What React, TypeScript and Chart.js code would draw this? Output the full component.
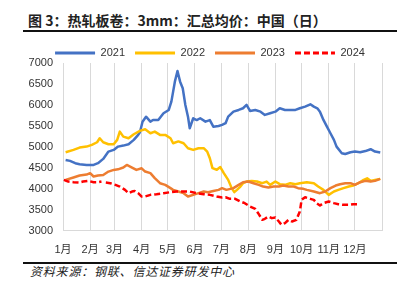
import React, { useEffect, useRef } from "react";
import { Chart, registerables } from "chart.js";

Chart.register(...registerables);

const titleText = "图 3：热轧板卷：3mm：汇总均价：中国（日）";
const sourceText = "资料来源：钢联、信达证券研发中心";

const seriesLabels = ["2021", "2022", "2023", "2024"];
const monthStarts = [0, 31, 59, 90, 120, 151, 181, 212, 243, 273, 304, 334, 365];
const monthLabels = ["1月", "2月", "3月", "4月", "5月", "6月", "7月", "8月", "9月", "10月", "11月", "12月"];
const yMin = 3000;
const yMax = 7000;
const yStep = 500;

const days2021 = [3, 8, 14, 19, 27, 35, 40, 46, 52, 58, 63, 69, 75, 81, 86, 88, 91, 95, 100, 103, 109, 115, 121, 124, 128, 131, 134, 137, 140, 143, 145, 149, 153, 157, 163, 168, 172, 178, 182, 186, 189, 195, 201, 206, 210, 214, 220, 226, 231, 237, 243, 248, 254, 260, 266, 271, 277, 283, 287, 291, 294, 298, 302, 306, 310, 313, 319, 323, 329, 334, 340, 346, 352, 357, 363];
const values2021 = [4690, 4667, 4612, 4588, 4571, 4571, 4612, 4714, 4888, 4928, 5007, 5031, 5064, 5167, 5286, 5350, 5600, 5720, 5602, 5640, 5640, 5802, 5881, 6079, 6555, 6810, 6555, 6398, 6000, 5721, 5445, 5683, 5640, 5683, 5602, 5640, 5483, 5500, 5524, 5564, 5721, 5840, 5881, 5921, 6000, 5857, 5881, 5840, 5762, 5802, 5840, 5921, 5881, 5881, 5881, 5921, 5960, 6016, 5960, 5921, 5840, 5643, 5483, 5326, 5167, 5007, 4850, 4830, 4873, 4888, 4873, 4900, 4945, 4888, 4865];

const days2022 = [3, 12, 19, 27, 33, 39, 42, 46, 52, 58, 62, 65, 69, 75, 81, 88, 94, 100, 105, 111, 117, 123, 126, 132, 138, 143, 149, 155, 161, 165, 168, 171, 176, 180, 184, 189, 193, 196, 199, 203, 206, 210, 216, 222, 228, 233, 237, 243, 248, 254, 260, 266, 271, 279, 287, 292, 298, 304, 310, 315, 321, 327, 332, 338, 344, 348, 352, 357, 363];
const values2022 = [4873, 4928, 4984, 5007, 5048, 5111, 5207, 5111, 5064, 5064, 5167, 5364, 5245, 5207, 5302, 5381, 5420, 5326, 5364, 5286, 5286, 5207, 5088, 5131, 5088, 4969, 4928, 4969, 4969, 4888, 4730, 4493, 4455, 4520, 4374, 4214, 4017, 3921, 3976, 4055, 4135, 4174, 4190, 4174, 4135, 4174, 4095, 4174, 4111, 4095, 4135, 4111, 4135, 4158, 4135, 4055, 3976, 3857, 3936, 3976, 4017, 4055, 4079, 4135, 4214, 4250, 4190, 4214, 4238];

const days2023 = [3, 12, 19, 27, 31, 35, 40, 46, 52, 58, 63, 69, 73, 79, 84, 90, 94, 100, 105, 111, 117, 123, 126, 132, 138, 143, 149, 155, 161, 166, 172, 178, 182, 187, 195, 201, 206, 212, 218, 224, 229, 235, 241, 247, 252, 258, 264, 269, 275, 279, 287, 294, 300, 306, 312, 317, 323, 329, 334, 340, 346, 352, 357, 363];
const values2023 = [4214, 4270, 4317, 4340, 4374, 4294, 4317, 4330, 4412, 4452, 4465, 4508, 4571, 4508, 4452, 4490, 4412, 4374, 4255, 4135, 4095, 4017, 3976, 3936, 3897, 3817, 3857, 3897, 3936, 3921, 3950, 3976, 4017, 3976, 4017, 4095, 4158, 4174, 4135, 4095, 4055, 4032, 4055, 4055, 4079, 4055, 4055, 4017, 4000, 3976, 3936, 3897, 3936, 4017, 4079, 4111, 4135, 4135, 4095, 4158, 4190, 4174, 4190, 4238];

const days2024 = [1, 6, 12, 18, 23, 29, 35, 40, 44, 46, 49, 54, 60, 65, 71, 75, 79, 82, 86, 90, 94, 100, 107, 115, 123, 130, 138, 145, 153, 161, 168, 176, 182, 186, 191, 197, 203, 208, 214, 220, 224, 228, 231, 235, 239, 243, 247, 250, 254, 258, 262, 267, 271, 273, 277, 283, 287, 290, 294, 298, 304, 310, 315, 321, 327, 332, 337];
const values2024 = [4214, 4174, 4158, 4150, 4174, 4190, 4158, 4158, 4174, null, 4150, 4135, 4095, 4055, 3976, 3897, 3936, 3950, 3897, 3817, 3817, 3857, 3873, 3897, 3921, 3936, 3936, 3936, 3897, 3873, 3857, 3817, 3793, 3800, 3762, 3762, 3698, 3658, 3579, 3524, 3397, 3262, 3286, 3341, 3302, 3318, 3222, 3143, 3183, 3262, 3222, 3262, 3460, 3738, 3800, 3762, 3738, 3659, 3603, 3659, 3698, 3659, 3635, 3619, 3619, 3635, 3635];

const seriesColors = ["#4472C4", "#FFC000", "#ED7D31", "#FF0000"];
const seriesDash: number[][] = [[], [], [], [6, 3]];

const toPoints = (days: number[], values: (number | null)[]) =>
  days.map((d, i) => ({ x: d, y: values[i] }));

const FONT = "'Liberation Sans', Arial, 'Noto Sans CJK SC', sans-serif";

export default function App() {
  const ref = useRef<HTMLCanvasElement>(null);

  useEffect(() => {
    const allData = [
      toPoints(days2021, values2021),
      toPoints(days2022, values2022),
      toPoints(days2023, values2023),
      toPoints(days2024, values2024),
    ];
    const chart = new Chart(ref.current as HTMLCanvasElement, {
      type: "line",
      data: {
        datasets: allData.map((d, i) => ({
          label: seriesLabels[i],
          data: d as any,
          borderColor: seriesColors[i],
          backgroundColor: seriesColors[i],
          borderWidth: 2.5,
          borderDash: seriesDash[i],
          pointRadius: 0,
          tension: 0,
          spanGaps: false,
          order: 4 - i,
          borderJoinStyle: "round" as const,
        })),
      },
      options: {
        animation: false,
        responsive: false,
        devicePixelRatio: 1,
        layout: { padding: { left: 28, right: 15, top: 3.5, bottom: 0 } },
        plugins: {
          tooltip: { enabled: false },
          legend: {
            position: "top",
            maxHeight: 25.5,
            labels: {
              usePointStyle: true,
              pointStyle: "line",
              pointStyleWidth: 40,
              boxWidth: 40,
              boxHeight: 11,
              padding: 10,
              color: "#333",
              font: { family: FONT, size: 11 },
              generateLabels: (c: any) =>
                c.data.datasets.map((ds: any, i: number) => ({
                  text: ds.label,
                  strokeStyle: seriesColors[i],
                  fillStyle: seriesColors[i],
                  lineWidth: 3,
                  lineDash: seriesDash[i],
                  pointStyle: "line",
                  hidden: false,
                  datasetIndex: i,
                  fontColor: "#333",
                })),
            },
          },
        },
        scales: {
          x: {
            type: "linear",
            min: 0,
            max: 365,
            afterBuildTicks: (axis: any) => {
              axis.ticks = monthStarts.map((v) => ({ value: v }));
            },
            grid: { color: "#D9D9D9", lineWidth: 1, drawTicks: false },
            border: { display: true, color: "#D9D9D9" },
            ticks: {
              autoSkip: false,
              maxRotation: 0,
              padding: 13,
              color: "#333",
              font: { family: FONT, size: 11 },
              callback: (_v: any, idx: number) => (idx < monthLabels.length ? monthLabels[idx] : ""),
            },
          },
          y: {
            min: yMin,
            max: yMax,
            afterFit: (axis: any) => {
              axis.width = 35;
            },
            grid: { display: false, drawTicks: false },
            border: { display: false },
            ticks: {
              stepSize: yStep,
              padding: 10,
              color: "#333",
              font: { family: FONT, size: 11 },
              callback: (v: any) => String(v),
            },
          },
          yRight: {
            position: "right",
            min: yMin,
            max: yMax,
            afterFit: (axis: any) => {
              axis.width = 10;
            },
            grid: { display: false, drawTicks: false },
            border: { display: false },
            ticks: { display: false },
          },
        },
      },
    });
    return () => chart.destroy();
  }, []);

  return (
    <div
      style={{
        position: "fixed",
        left: 0,
        top: 0,
        width: 407,
        height: 296,
        background: "#fff",
        overflow: "hidden",
      }}
    >
      <div
        style={{
          position: "absolute",
          left: 28,
          top: 12,
          fontFamily: "'Noto Sans CJK SC', sans-serif",
          fontWeight: 700,
          fontSize: 14,
          lineHeight: "16px",
          color: "#222",
          whiteSpace: "nowrap",
        }}
      >
        {titleText}
      </div>
      <div style={{ position: "absolute", left: 23, top: 30, width: 374, height: 2, background: "#111" }} />
      <div style={{ position: "absolute", left: 23, top: 262, width: 374, height: 2, background: "#111" }} />
      <div
        style={{
          position: "absolute",
          left: 30,
          top: 264,
          fontFamily: "'Noto Sans CJK SC', sans-serif",
          fontStyle: "italic",
          fontSize: 12,
          lineHeight: "14px",
          color: "#222",
          whiteSpace: "nowrap",
          letterSpacing: 0.8,
        }}
      >
        {sourceText}
      </div>
      <canvas
        ref={ref}
        width={407}
        height={236}
        style={{ position: "absolute", left: 0, top: 34, width: 407, height: 236 }}
      />
    </div>
  );
}
